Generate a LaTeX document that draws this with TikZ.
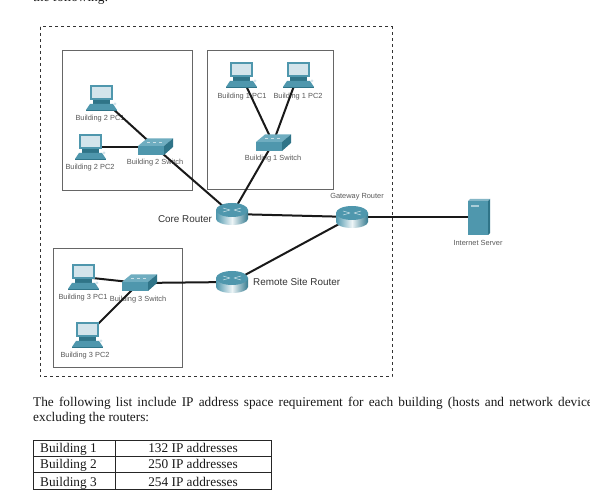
\documentclass[tikz,border=0pt]{standalone}
\usepackage{fontspec}
\setmainfont{Liberation Serif}
\setsansfont{Liberation Sans}
\usetikzlibrary{calc}
\definecolor{ciscoteal}{HTML}{4F97AD}
\definecolor{ciscotop}{HTML}{6FADC0}
\definecolor{ciscodark}{HTML}{2F7488}
\definecolor{ciscoscreen}{HTML}{D3E4EB}
\tikzset{
    devnode/.style={inner sep=0pt, minimum size=1pt},
    netbox/.style={draw=black!60, line width=1pt},
    link/.style={draw=black!90, line width=2pt},
    devlabel/.style={font=\sffamily\fontsize{7.4}{8}\selectfont, text=black!65, inner sep=0pt},
    biglabel/.style={font=\sffamily\fontsize{9.9}{11}\selectfont, text=black!80, inner sep=0pt},
    doctext/.style={font=\fontsize{13.3}{14}\selectfont, text=black!90, inner sep=0pt, anchor=base west},
    pcicon/.pic={
        \fill[ciscoteal] (-11,-13) rectangle (12,2);
        \fill[ciscoscreen] (-9,-11) rectangle (10,0);
        \fill[ciscodark] (-8,2) -- (9,2) -- (9,6) -- (-8,6) -- cycle;
        \fill[ciscoteal] (-11,6) -- (12,6) -- (16,12) -- (-15,12) -- cycle;
        \fill[ciscodark] (-15,12) rectangle (16,13.5);
        \fill[ciscoscreen] (14,6) circle (1.5);
    },
    switchicon/.pic={
        \fill[ciscotop] (-17,-1) -- (-8,-8.5) -- (18,-8.5) -- (9,-1) -- cycle;
        \fill[ciscoteal] (-17,-1) rectangle (9,8);
        \fill[ciscodark] (9,-1) -- (18,-8.5) -- (18,0) -- (9,8) -- cycle;
        \draw[white!70!ciscoteal, line width=0.5pt, dashed] (-8,-4.5) -- (10,-4.5);
    },
    routericon/.pic={
        \shade[left color=ciscoteal, right color=ciscodark!80!ciscoteal, middle color=white!90!ciscoteal]
            (-16,-4) -- (-16,5) arc[start angle=180, end angle=0, x radius=16, y radius=6]
            -- (16,-4) -- cycle;
        \fill[ciscoteal] (0,-4) ellipse (16 and 7);
        \draw[white!70!ciscoteal, line width=0.5pt] (-9,-6) -- (-2,-4) (9,-6) -- (2,-4) (-9,-2) -- (-2,-4) (9,-2) -- (2,-4);
    },
    servericon/.pic={
        \fill[white!30!ciscoteal] (-11,-16) -- (-9,-18) -- (11,-18) -- (9,-16) -- cycle;
        \fill[ciscoteal] (-11,-16) rectangle (9,18);
        \fill[ciscodark] (9,-16) -- (11,-18) -- (11,16) -- (9,18) -- cycle;
        \fill[ciscoscreen!70!ciscoteal] (-8,-12) rectangle (0,-10);
    }
}

\begin{document}
\begin{tikzpicture}[x=1pt, y=-1pt]
        \useasboundingbox (0,0) rectangle (590,497);
        \clip (0,0) rectangle (590,497);
        \fill[white] (0,0) rectangle (590,497);

        % Outer dashed area and building boxes
        \draw[dashed, black!80, line width=1pt] (40,27) rectangle (392,377);
        \draw[netbox] (62,51) rectangle (192,191);
        \draw[netbox] (207,51) rectangle (333,190);
        \draw[netbox] (53,249) rectangle (182,368);

        % Device anchors
        \node[devnode] (btwopca) at (101,98) {};
        \node[devnode] (btwopcb) at (90,147) {};
        \node[devnode] (btwosw) at (155,147) {};
        \node[devnode] (bonepca) at (241,75) {};
        \node[devnode] (bonepcb) at (298,75) {};
        \node[devnode] (bonesw) at (273,143) {};
        \node[devnode] (bthreepca) at (83,277) {};
        \node[devnode] (bthreepcb) at (87,335) {};
        \node[devnode] (bthreesw) at (139,283) {};
        \node[devnode] (corert) at (232,214) {};
        \node[devnode] (gatert) at (352,217) {};
        \node[devnode] (remotert) at (232,282) {};
        \node[devnode] (inetsrv) at (479,217) {};

        % Device labels
        \node[devlabel] (lbtwopca) at (100,119) {Building 2 PC1};
        \node[devlabel] (lbtwopcb) at (90,168) {Building 2 PC2};
        \node[devlabel] (lbtwosw) at (155,163) {Building 2 Switch};
        \node[devlabel] (lbonepca) at (242,97) {Building 1 PC1};
        \node[devlabel] (lbonepcb) at (298,97) {Building 1 PC2};
        \node[devlabel] (lbonesw) at (273,159) {Building 1 Switch};
        \node[devlabel] (lbthreepca) at (83,298) {Building 3 PC1};
        \node[devlabel] (lbthreesw) at (138,300) {Building 3 Switch};
        \node[devlabel] (lbthreepcb) at (85,356) {Building 3 PC2};
        \node[devlabel] (lgatert) at (357,197) {Gateway Router};
        \node[devlabel] (linetsrv) at (478,243) {Internet Server};
        \node[biglabel] (lcorert) at (185,219) {Core Router};
        \node[biglabel, anchor=west] (lremotert) at (253,282) {Remote Site Router};

        % Links
        \draw[link] (btwopca) -- (btwosw);
        \draw[link] (btwopcb) -- (btwosw);
        \draw[link] (bonepca) -- (bonesw);
        \draw[link] (bonepcb) -- (bonesw);
        \draw[link] (bthreepca) -- (bthreesw);
        \draw[link] (bthreepcb) -- (bthreesw);
        \draw[link] (btwosw) -- (corert);
        \draw[link] (bonesw) -- (corert);
        \draw[link] (corert) -- (gatert);
        \draw[link] (gatert) -- (inetsrv);
        \draw[link] (gatert) -- (remotert);
        \draw[link] (bthreesw) -- (remotert);

        % Icons on top of the links
        \pic at (btwopca) {pcicon};
        \pic at (btwopcb) {pcicon};
        \pic at (bonepca) {pcicon};
        \pic at (bonepcb) {pcicon};
        \pic at (bthreepca) {pcicon};
        \pic at (bthreepcb) {pcicon};
        \pic at (btwosw) {switchicon};
        \pic at (bonesw) {switchicon};
        \pic at (bthreesw) {switchicon};
        \pic at (corert) {routericon};
        \pic at (gatert) {routericon};
        \pic at (remotert) {routericon};
        \pic at (inetsrv) {servericon};

        % Text of the page
        \node[doctext] (topline) at (33,2) {the following:};
        \node[doctext] (paraone) at (33,407) {\spaceskip=5.2pt The following list include IP address space requirement for each building (hosts and network devices};
        \node[doctext] (paratwo) at (33,422) {excluding the routers:};

        % Table
        \draw[black!85, line width=1pt] (33,441) rectangle (271,490);
        \draw[black!85, line width=1pt] (33,457) -- (271,457);
        \draw[black!85, line width=1pt] (33,473) -- (271,473);
        \draw[black!85, line width=1pt] (115,441) -- (115,490);
        \node[doctext] (rowone) at (40,453) {Building 1};
        \node[doctext] (rowtwo) at (40,469) {Building 2};
        \node[doctext] (rowthree) at (40,486) {Building 3};
        \node[doctext, anchor=base] (ipone) at (193,453) {132 IP addresses};
        \node[doctext, anchor=base] (iptwo) at (193,469) {250 IP addresses};
        \node[doctext, anchor=base] (ipthree) at (193,486) {254 IP addresses};
    \end{tikzpicture}
\end{document}
